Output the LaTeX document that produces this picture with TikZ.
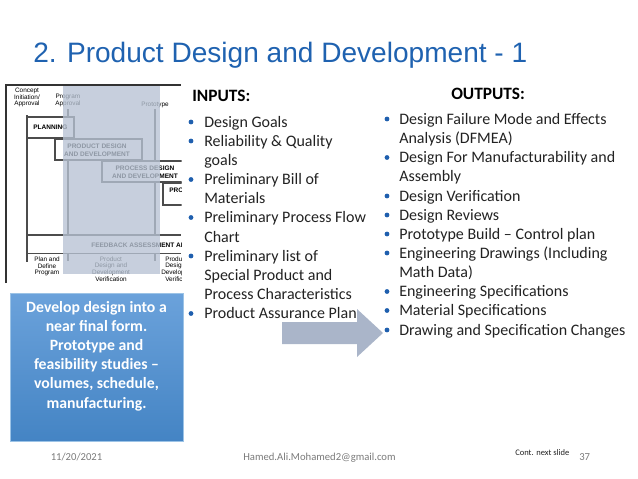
\documentclass[tikz,border=0pt]{standalone}
\usepackage{fontspec}
\setmainfont{Carlito}
\newfontfamily\arialf{Liberation Sans}
\definecolor{titleblue}{HTML}{1F62B0}
\definecolor{bulletblue}{HTML}{1F5FAE}
\definecolor{bodyink}{HTML}{222222}
\definecolor{veilcol}{HTML}{B7C2D3}
\definecolor{arrowfill}{HTML}{AAB5C9}
\definecolor{boxtop}{HTML}{6BA2DB}
\definecolor{boxbot}{HTML}{4484C4}
\definecolor{boxedge}{HTML}{9CC3E6}
\definecolor{footgrey}{HTML}{7A7A7A}
\tikzset{
  body/.style={anchor=base west,inner sep=0pt,text=bodyink,font=\fontsize{12pt}{14pt}\selectfont},
  head/.style={anchor=base west,inner sep=0pt,text=black,font=\fontsize{13pt}{15pt}\selectfont\bfseries},
  bul/.style={circle,fill=bulletblue,draw=none,inner sep=0pt,minimum size=3.6pt},
  chart/.style={inner sep=0pt,align=center,text=black,font=\arialf\fontsize{4.8pt}{5pt}\selectfont},
  chartb/.style={chart,font=\arialf\fontsize{4.9pt}{5.8pt}\selectfont\bfseries},
  cline/.style={draw=black!70,line width=0.8pt},
  foot/.style={inner sep=0pt,text=footgrey,font=\fontsize{8pt}{10pt}\selectfont},
}
\begin{document}
\begin{tikzpicture}[x=0.75pt,y=-0.75pt]
\useasboundingbox (0,0) rectangle (638,478);
\node[anchor=base west,inner sep=0pt,text=titleblue,font=\arialf\fontsize{21.05pt}{24pt}\selectfont] (title) at (33,63) {2. Product Design and Development - 1};
% chart
\begin{scope}
\clip (0,80) rectangle (181.5,290);
\draw[black!80,line width=0.9pt] (6,283) -- (6,85) -- (181,85);
\draw[cline] (27,115) -- (27,262);
\draw[cline] (27,117) rectangle (74,138);
\draw[cline] (55,139) rectangle (142,160);
\draw[cline] (102,161) rectangle (190,182);
\draw[cline] (163,183) rectangle (190,205);
\draw[cline] (68,109) -- (68,117);
\draw[cline] (68,160) -- (68,235);
\draw[cline] (155,109) -- (155,161);
\draw[cline] (155,182) -- (155,235);
\draw[cline] (27,235) -- (181,235);
\draw[cline] (27,253.5) -- (181,253.5);
\draw[cline] (68,253) -- (68,261);
\draw[cline] (155,253) -- (155,261);
\node[chart] (c1) at (27,97.5) {Concept\\Initiation/\\Approval};
\node[chart] (c2) at (68,100.5) {Program\\Approval};
\node[chart] (c3) at (155,104.5) {Prototype};
\node[chartb,anchor=west] (c4) at (33,127) {PLANNING};
\node[chartb] (c5) at (97,150) {PRODUCT DESIGN\\AND DEVELOPMENT};
\node[chartb] (c6) at (145,172) {PROCESS DESIGN\\AND DEVELOPMENT};
\node[chartb,anchor=west] (c7) at (169,190.5) {PRODUCT};
\node[chartb,anchor=west] (c8) at (91,245) {FEEDBACK ASSESSMENT AND};
\node[chart] (c9) at (47,266.5) {Plan and\\Define\\Program};
\node[chart] (c10) at (111,269) {Product\\Design and\\Development\\Verification};
\node[chart,anchor=west,align=left] (c11) at (161,269) {\hspace{3pt}Product\\\hspace{3pt}Design and\\Development\\\hspace{3pt}Verification};
\fill[veilcol,opacity=0.78] (63,85.5) rectangle (160,274);
\end{scope}
% inputs
\node[head] (inh) at (192,101) {INPUTS:};
\node[head] (outh) at (451,99) {OUTPUTS:};
\foreach \n/\y/\t in {a/127/Design Goals,b/146/Reliability \& Quality,c/165/goals,d/184.5/Preliminary Bill of,e/203.5/Materials,f/222.5/Preliminary Process Flow,g/242/Chart,h/261/Preliminary list of,i/280/Special Product and,j/299.5/Process Characteristics,k/318.5/Product Assurance Plan}
  \node[body] (in\n) at (204,\y) {\t};
\foreach \n/\y in {a/122,b/141,d/179.5,f/217.5,h/256,k/313.5}
  \node[bul] (ib\n) at (191,\y) {};
% outputs
\foreach \n/\y/\t in {a/124/Design Failure Mode and Effects,b/143.5/Analysis (DFMEA),c/162.5/Design For Manufacturability and,d/181.5/Assembly,e/201/Design Verification,f/220/Design Reviews,g/239/Prototype Build – Control plan,h/258/Engineering Drawings (Including,i/277/Math Data),j/296.5/Engineering Specifications,k/315.5/Material Specifications,l/335/Drawing and Specification Changes}
  \node[body] (out\n) at (399,\y) {\t};
\foreach \n/\y in {a/119,c/157.5,e/196,f/215,g/234,h/253,j/291.5,k/310.5,l/330}
  \node[bul] (ob\n) at (387,\y) {};
% arrow
\fill[arrowfill] (282,322) -- (357,322) -- (357,309) -- (383,333) -- (357,357) -- (357,344) -- (282,344) -- cycle;
% blue box
\node[draw=boxedge,line width=0.6pt,top color=boxtop,bottom color=boxbot,minimum width=173pt*0.75,minimum height=148pt*0.75,inner sep=0pt,anchor=north west] (box) at (10,293) {};
\node[inner sep=0pt,align=center,text=white,font=\fontsize{11.8pt}{14.4pt}\selectfont\bfseries] (boxt) at (96.5,356) {Develop design into a\\near final form.\\Prototype and\\feasibility studies –\\volumes, schedule,\\manufacturing.};
% footer
\node[foot,anchor=base west] (date) at (50.5,460) {11/20/2021};
\node[foot,anchor=base west] (mail) at (243,460) {Hamed.Ali.Mohamed2@gmail.com};
\node[inner sep=0pt,anchor=base west,text=bodyink,font=\fontsize{6.4pt}{8pt}\selectfont] (cont) at (515,455) {Cont. next slide};
\node[foot,anchor=base west] (num) at (579,460) {37};
\end{tikzpicture}
\end{document}
